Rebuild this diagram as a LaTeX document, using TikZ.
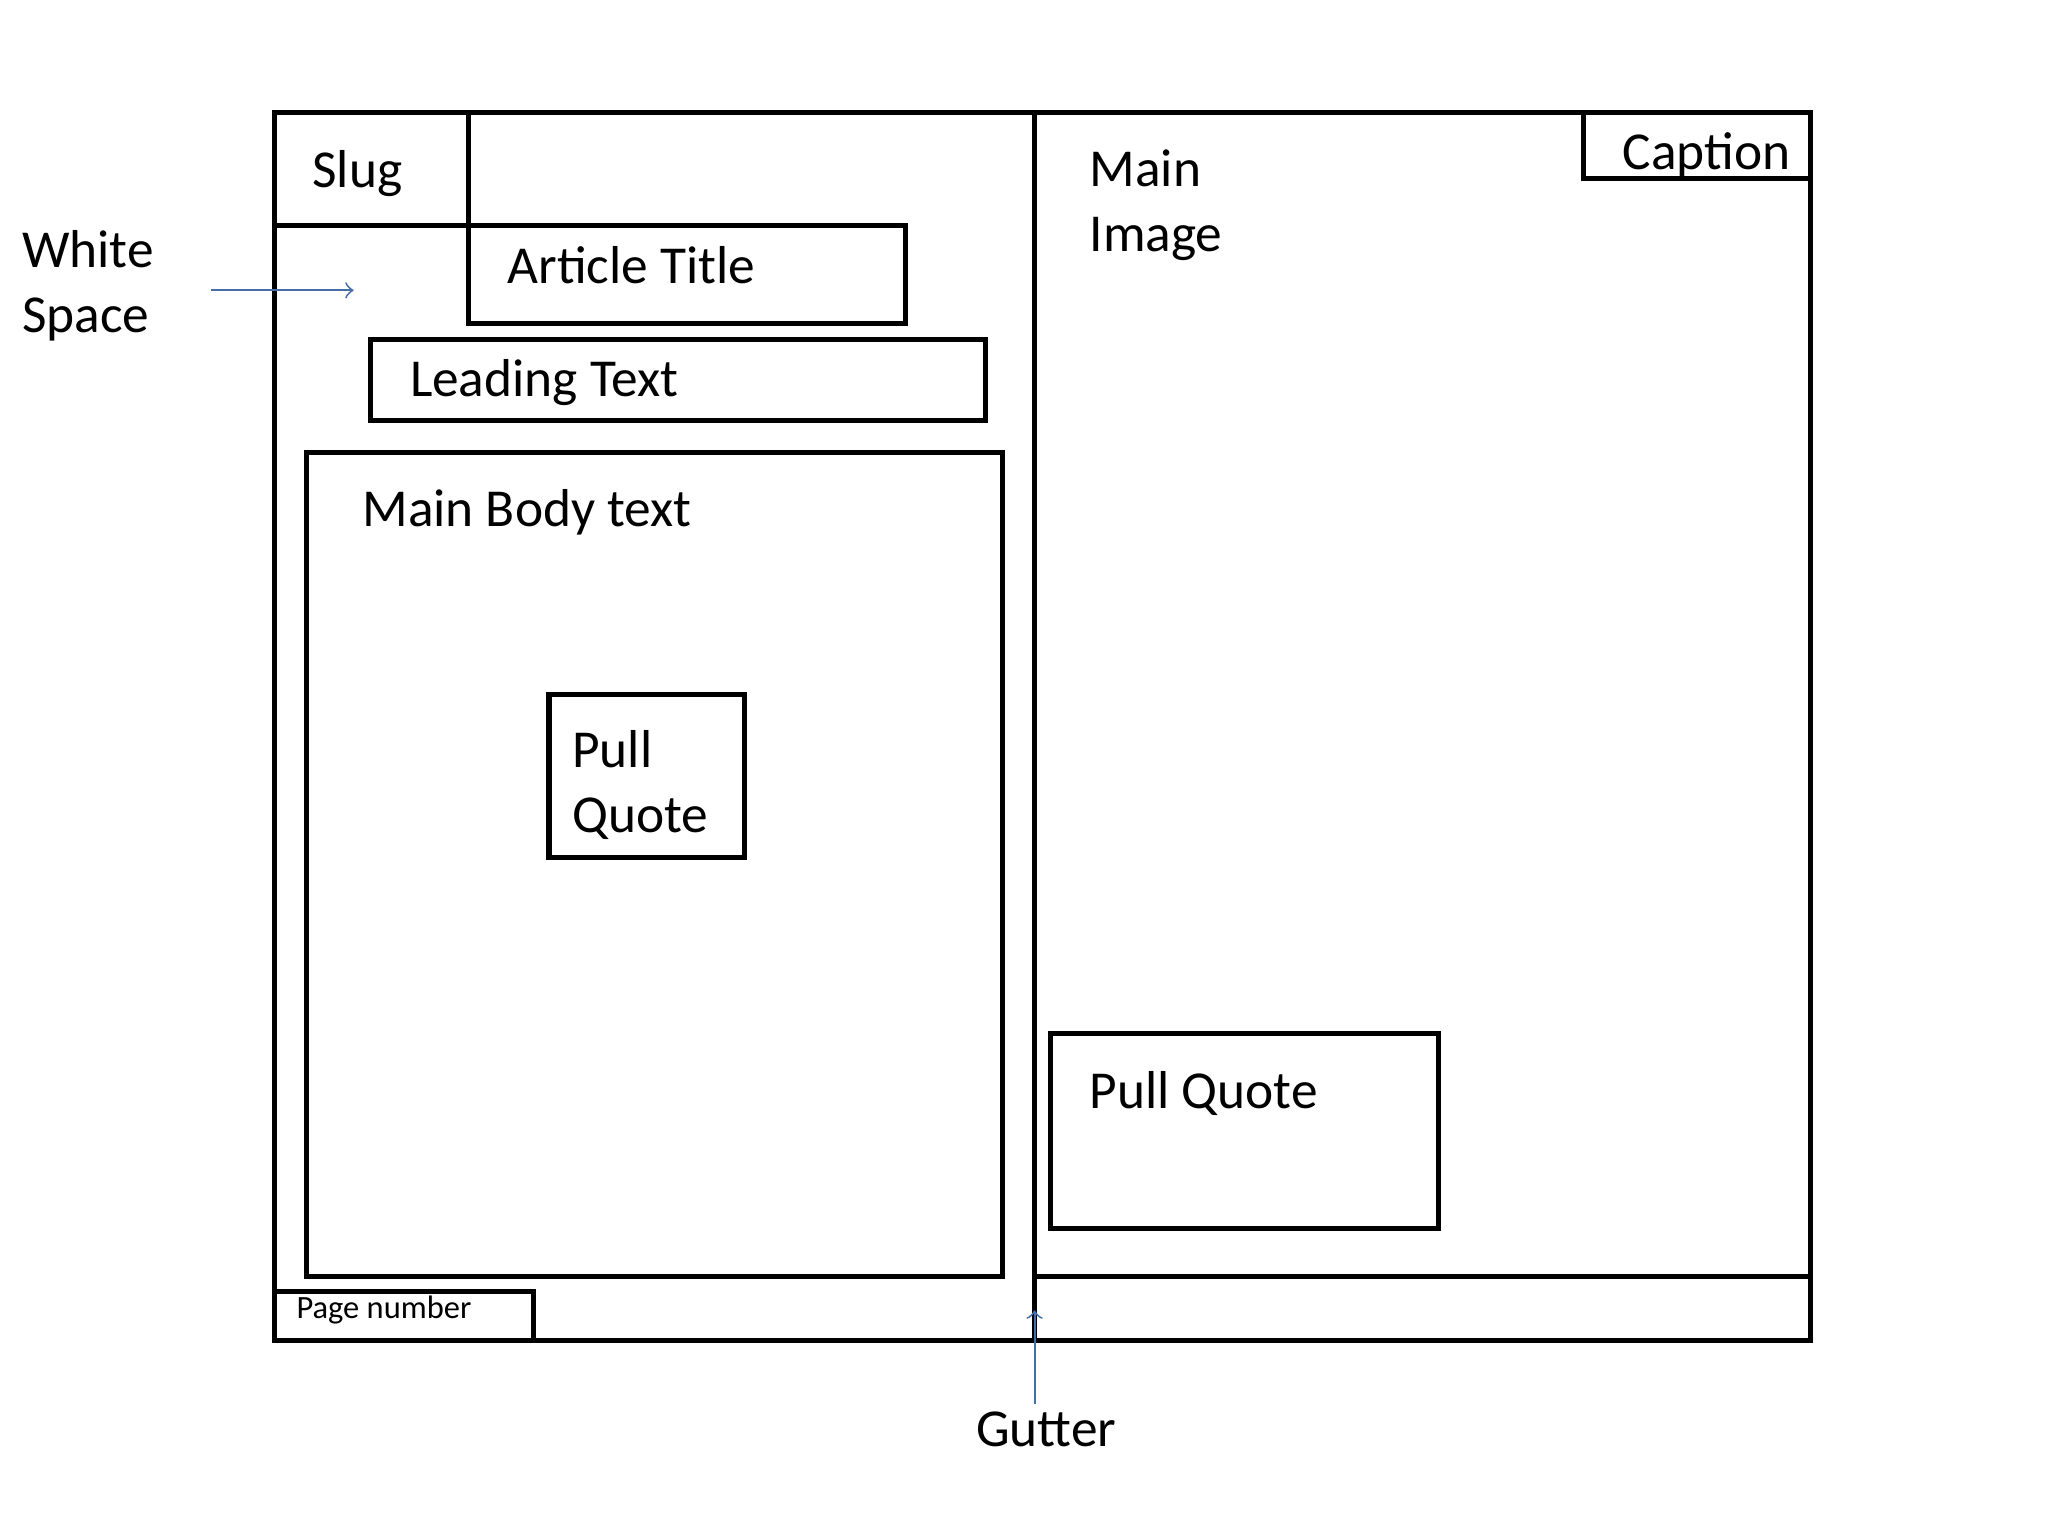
\documentclass[tikz,border=0pt]{standalone}
\usepackage{fontspec}
\setmainfont{Carlito}
\begin{document}
\begin{tikzpicture}[x=0.01cm,y=-0.01cm,
            frame/.style={line width=1.1pt},
            lbl/.style={anchor=north west, inner sep=0pt, align=left, font=\fontsize{11.5}{14}\selectfont},
            note/.style={->, draw={rgb,255: red,70; green,110; blue,170}, thin}
        ]
            \useasboundingbox (0,0) rectangle (1552,1164);
            % page and columns
            \draw [frame] (208,85) rectangle (1372,1016);
            \draw [frame] (784,85) -- (784,1016);
            \draw [frame] (784,967) -- (1372,967);
            \draw [frame] (208,85) rectangle (355,171);
            \draw [frame] (355,171) rectangle (686,245);
            \draw [frame] (281,257) rectangle (747,319);
            \draw [frame] (232,343) rectangle (760,967);
            \draw [frame] (416,526) rectangle (564,650);
            \draw [frame] (1200,85) rectangle (1372,135);
            \draw [frame] (796,783) rectangle (1090,931);
            \draw [frame] (208,979) rectangle (404,1016);

            \node (slug) [lbl] at (236,113) {Slug};
            \node (title) [lbl] at (384,186) {Article Title};
            \node (leading) [lbl] at (310,272) {Leading Text};
            \node (body) [lbl] at (274,370) {Main Body text};
            \node (pull1) [lbl] at (433,553) {Pull\\Quote};
            \node (image) [lbl] at (825,113) {Main\\Image};
            \node (caption) [lbl] at (1229,100) {Caption};
            \node (pull2) [lbl] at (825,811) {Pull Quote};
            \node (pagenum) [lbl, font=\fontsize{7}{8}\selectfont] at (224,981) {Page number};

            % annotations
            \node (white) [lbl] at (16,174) {White\\Space};
            \node (gutter) [lbl] at (739,1069) {Gutter};
            \coordinate (wsend) at (268,220);
            \coordinate (wsstart) at (160,220);
            \coordinate (gtend) at (784,993);
            \coordinate (gtstart) at (784,1064);
            \draw [note] (wsstart) -- (wsend);
            \draw [note] (gtstart) -- (gtend);
        \end{tikzpicture}
\end{document}
